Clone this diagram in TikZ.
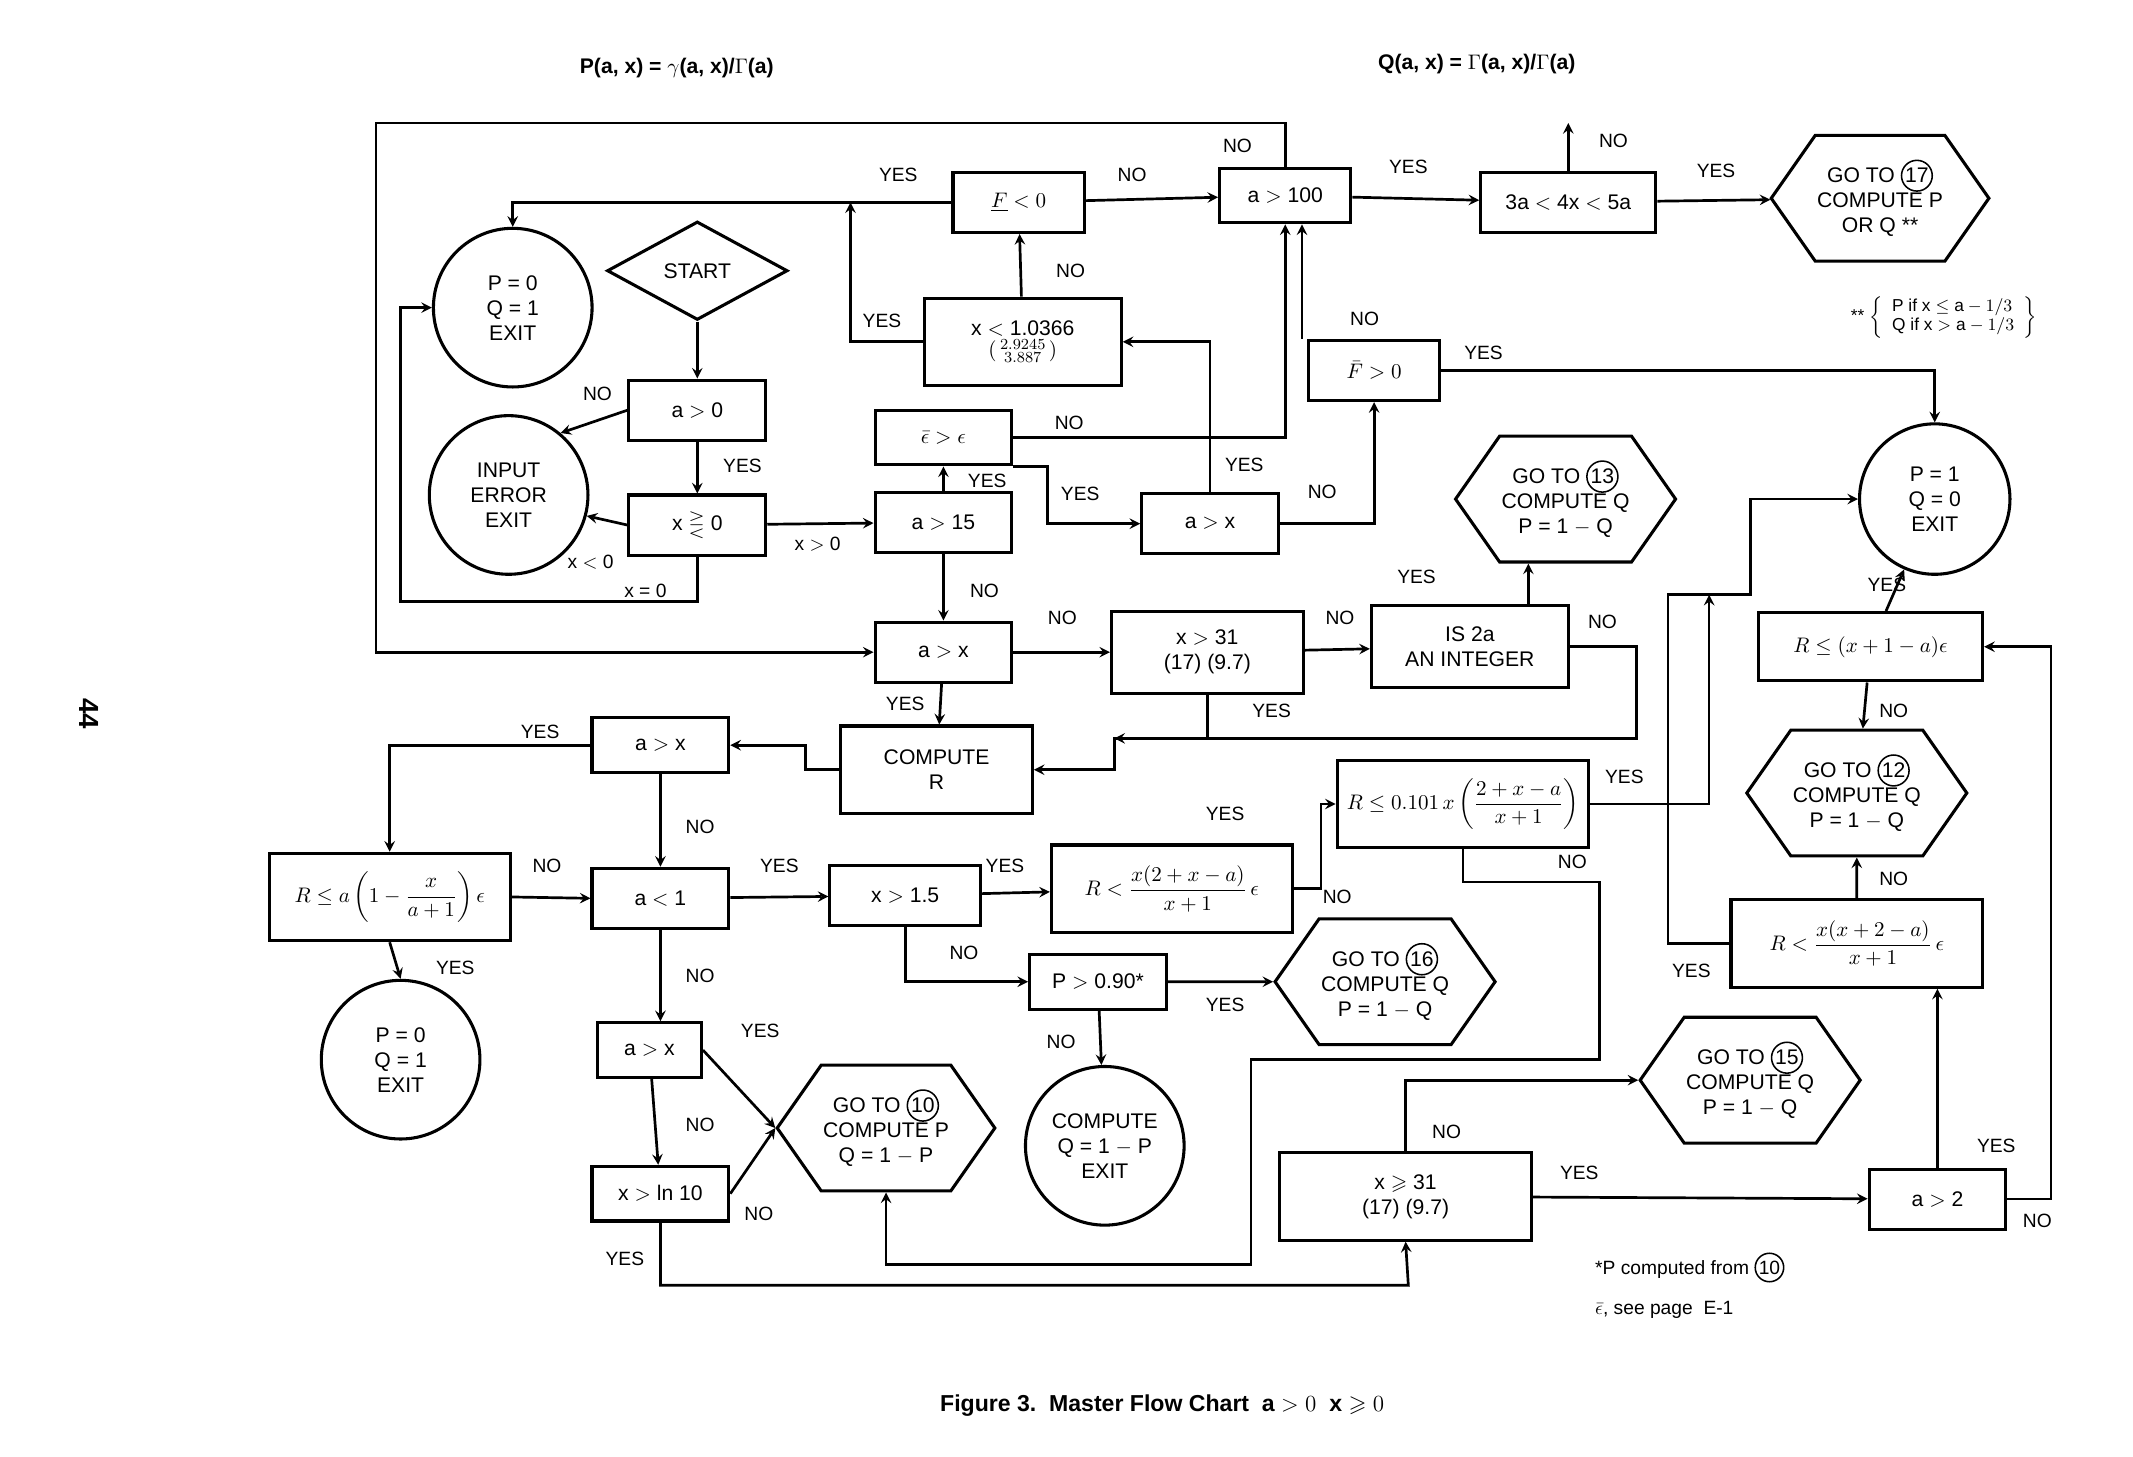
\documentclass[tikz,border=0pt]{standalone}
\usepackage{fontspec}
\setmainfont{Liberation Sans}
\usepackage{amsmath,amssymb}
\usetikzlibrary{shapes.geometric,shapes.symbols}
\newcommand{\circnum}[1]{\tikz[baseline=(c.base)]\node[shape=circle,draw,thick,inner sep=0.6pt,minimum width=0pt,minimum height=0pt,minimum size=0pt](c){#1};}
\tikzset{
  box/.style={draw, line width=1.6pt, align=center, inner sep=2pt},
  hexa/.style={draw, line width=1.6pt, align=center, signal, signal to=east and west, signal pointer angle=110, minimum width=3.75cm, minimum height=2.3cm, inner sep=1pt},
  term/.style={draw, circle, line width=1.6pt, align=center, minimum size=2.9cm, inner sep=0pt},
  lbl/.style={font=\fontsize{10}{12}\selectfont, inner sep=1pt},
  flow/.style={line width=1.4pt, ->, >=stealth}
}
\begin{document}
\begin{tikzpicture}[x=0.025cm, y=-0.025cm, font=\fontsize{11}{13}\selectfont]
\useasboundingbox (0,0) rectangle (1560,1065);
%% headings
\node (hp) at (495,50) {\textbf{P(a, x) = \(\gamma\)(a, x)/\(\Gamma\)(a)}};
\node (hq) at (1080,47) {\textbf{Q(a, x) = \(\Gamma\)(a, x)/\(\Gamma\)(a)}};
\node[rotate=-90, font=\Large\bfseries] (pg) at (65,522) {44};
\node (cap) at (850,1028) {\large\textbf{Figure 3.\ \ Master Flow Chart\ \ a \(>0\)\ \ x \(\geqslant 0\)}};
\node[lbl, anchor=west] (fn1) at (1165,927) {*P computed from \circnum{10}};
\node[lbl, anchor=west] (fn2) at (1165,958) {\(\bar\epsilon\), see page\ \ E-1};
\node[lbl, anchor=west, font=\fontsize{9}{10}\selectfont] (fn3) at (1352,232) {** \(\left\{\begin{array}{l}\text{P if x} \le \text{a} - 1/3\\ \text{Q if x} > \text{a} - 1/3\end{array}\right\}\)};

%% boxes
\node[box, minimum width=2.4cm, minimum height=1.1cm] (fneg) at (745,148) {\(\underline{F}<0\)};
\node[box, minimum width=2.4cm, minimum height=1cm] (a100) at (940,143) {a \(>\) 100};
\node[box, minimum width=3.2cm, minimum height=1.1cm] (r3a) at (1147,148) {3a \(<\) 4x \(<\) 5a};
\node[hexa] (go17) at (1375,145) {GO TO \circnum{17}\\COMPUTE P\\OR Q **};
\node[term] (exitA) at (375,225) {P = 0\\Q = 1\\EXIT};
\node[draw, diamond, aspect=2, line width=1.6pt, minimum width=3.3cm, minimum height=1.8cm, inner sep=0pt] (start) at (510,198) {START};
\node[box, minimum width=3.6cm, minimum height=1.6cm] (xsmall) at (748,250) {x \(<\) 1.0366\\[-2pt]\(\left(\begin{smallmatrix}2.9245\\3.887\end{smallmatrix}\right)\)};
\node[box, minimum width=2.5cm, minimum height=1.1cm] (apos) at (510,300) {a \(>\) 0};
\node[box, minimum width=2.5cm, minimum height=1cm] (epsc) at (690,320) {\(\bar\epsilon>\epsilon\)};
\node[box, minimum width=2.4cm, minimum height=1.1cm] (fbar) at (1005,271) {\(\bar F>0\)};
\node[term] (inerr) at (372,362) {INPUT\\ERROR\\EXIT};
\node[box, minimum width=2.5cm, minimum height=1.1cm] (xcmp) at (510,384) {x \(\gtreqless\) 0};
\node[box, minimum width=2.5cm, minimum height=1.1cm] (a15) at (690,382) {a \(>\) 15};
\node[box, minimum width=2.5cm, minimum height=1.1cm] (axu) at (885,383) {a \(>\) x};
\node[hexa] (go13) at (1145,365) {GO TO \circnum{13}\\COMPUTE Q\\P = 1 \(-\) Q};
\node[term, minimum size=2.75cm] (exitP1) at (1415,365) {P = 1\\Q = 0\\EXIT};
\node[box, minimum width=2.5cm, minimum height=1.1cm] (axm) at (690,477) {a \(>\) x};
\node[box, minimum width=3.5cm, minimum height=1.5cm] (x31u) at (883,477) {x \(>\) 31\\(17) (9.7)};
\node[box, minimum width=3.6cm, minimum height=1.5cm] (int2a) at (1075,473) {IS 2a\\AN INTEGER};
\node[box, minimum width=4.1cm, minimum height=1.25cm] (rq) at (1368,473) {\(R\le(x+1-a)\epsilon\)};
\node[box, minimum width=2.5cm, minimum height=1cm] (axl) at (483,545) {a \(>\) x};
\node[box, minimum width=3.5cm, minimum height=1.6cm] (compR) at (685,563) {COMPUTE\\R};
\node[box, minimum width=4.6cm, minimum height=1.6cm] (r101) at (1070,588) {\(R\le 0.101\,x\left(\dfrac{2+x-a}{x+1}\right)\)};
\node[hexa] (go12) at (1358,580) {GO TO \circnum{12}\\COMPUTE Q\\P = 1 \(-\) Q};
\node[box, minimum width=4.4cm, minimum height=1.6cm] (ra) at (285,656) {\(R\le a\left(1-\dfrac{x}{a+1}\right)\epsilon\)};
\node[box, minimum width=2.5cm, minimum height=1.1cm] (alt1) at (483,657) {a \(<\) 1};
\node[box, minimum width=2.75cm, minimum height=1.1cm] (x15) at (662,655) {x \(>\) 1.5};
\node[box, minimum width=4.4cm, minimum height=1.6cm] (r2xa) at (857,650) {\(R<\dfrac{x(2+x-a)}{x+1}\,\epsilon\)};
\node[box, minimum width=4.6cm, minimum height=1.6cm] (rx2a) at (1358,690) {\(R<\dfrac{x(x+2-a)}{x+1}\,\epsilon\)};
\node[box, minimum width=2.5cm, minimum height=1cm] (p90) at (803,718) {P \(>\) 0.90*};
\node[hexa] (go16) at (1013,718) {GO TO \circnum{16}\\COMPUTE Q\\P = 1 \(-\) Q};
\node[term] (exitB) at (293,775) {P = 0\\Q = 1\\EXIT};
\node[box, minimum width=1.9cm, minimum height=1cm] (axll) at (475,768) {a \(>\) x};
\node[hexa] (go10) at (648,825) {GO TO \circnum{10}\\COMPUTE P\\Q = 1 \(-\) P};
\node[term] (exitQ) at (808,838) {COMPUTE\\Q = 1 \(-\) P\\EXIT};
\node[hexa] (go15) at (1280,790) {GO TO \circnum{15}\\COMPUTE Q\\P = 1 \(-\) Q};
\node[box, minimum width=2.5cm, minimum height=1cm] (xln) at (483,873) {x \(>\) \(\ln\) 10};
\node[box, minimum width=4.6cm, minimum height=1.6cm] (x31l) at (1028,875) {x \(\geqslant\) 31\\(17) (9.7)};
\node[box, minimum width=2.5cm, minimum height=1.1cm] (a2) at (1417,877) {a \(>\) 2};

%% junction points
\coordinate (zl) at (293,440);
\coordinate (tl) at (275,90);
\coordinate (fl) at (622,148);
\coordinate (jr) at (815,540);
\coordinate (jx) at (1197,540);
\coordinate (tk1) at (1220,435);
\coordinate (tk2) at (1280,435);
\coordinate (tk3) at (1250,435);
\coordinate (rc1) at (1170,645);
\coordinate (rc2) at (1170,775);
\coordinate (rc4) at (915,925);
\coordinate (bl) at (1030,940);
\coordinate (rr) at (1500,877);

%% connectors
\draw[flow] (start) -- (apos);
\draw[flow] (apos.west) -- (inerr.50);
\draw[flow] (apos) -- (xcmp);
\draw[flow] (xcmp.west) -- (inerr.-15);
\draw[flow] (xcmp) -- (a15);
\draw[flow] (xcmp.south) |- (zl) |- (exitA.west);
\draw[flow] (a15) -- (epsc);
\draw[flow] (a15) -- (axm);
\draw[flow] (epsc.east) -| (a100.south);
\draw[flow] (epsc.south east) -- ++(25,0) |- (axu.west);
\draw[flow] (axu.north) |- (xsmall.east);
\draw[flow] (axu.east) -| (fbar.south);
\draw[flow] (xsmall) -- (fneg);
\draw[flow] (xsmall.west) -| (fl);
\draw[flow] (fneg.west) -| (exitA.north);
\draw[flow] (fneg) -- (a100);
\draw[flow] (a100) -- (r3a);
\draw[flow] (a100.north) |- (tl) |- (axm.west);
\draw[flow] (r3a.north) -- (r3a.north |- tl);
\draw[flow] (r3a) -- (go17);
\draw[flow] (fbar.north -| a100.-60) -- (a100.-60);
\draw[flow] (fbar.east) -| (exitP1.north);
\draw[flow] (axm) -- (x31u);
\draw[flow] (axm) -- (compR);
\draw[flow] (x31u) -- (int2a);
\draw[flow] (x31u.south) |- (jr) |- (compR.east);
\draw[flow] (int2a.east) -| (jx) -- (jr);
\draw[flow] (go13.-120 |- int2a.north) -- (go13.-120);
\draw[flow] (compR.west) -- ++(-25,0) |- (axl.east);
\draw[flow] (axl.west) -| (ra.north);
\draw[flow] (axl) -- (alt1);
\draw[flow] (ra.east) -- (alt1.west);
\draw[flow] (ra.south) -- (exitB.north);
\draw[flow] (alt1) -- (x15);
\draw[flow] (alt1.south) -- (alt1.south |- axll.north);
\draw[flow] (x15) -- (r2xa);
\draw[flow] (x15.south) |- (p90.west);
\draw[flow] (r2xa.east) -- ++(20,0) |- (r101.west);
\draw[flow] (p90) -- (go16);
\draw[flow] (p90) -- (exitQ);
\draw[flow] (rx2a.west) -| (tk1) -- (tk2) |- (exitP1.west);
\draw[flow] (r101.east) -| (tk3);
\draw[flow] (r101.south) |- (rc1) -- (rc2) -| (rc4) -| (go10.south);
\draw[flow] (axll.east) -- (go10.west);
\draw[flow] (axll) -- (xln);
\draw[flow] (xln.east) -- (go10.west);
\draw[flow] (xln.south) |- (bl) -- (x31l.south);
\draw[flow] (x31l.north) |- (go15.west);
\draw[flow] (x31l) -- (a2);
\draw[flow] (a2.north) -- (a2.north |- rx2a.south);
\draw[flow] (a2.east) -- (rr) |- (rq.east);
\draw[flow] (rx2a) -- (go12);
\draw[flow] (rq) -- (go12);
\draw[flow] (rq) -- (exitP1);

%% branch labels
\node[lbl] (l1) at (437,288) {NO};
\node[lbl] (l2) at (543,341) {YES};
\node[lbl] (l3) at (432,411) {x \(<\) 0};
\node[lbl] (l4) at (598,398) {x \(>\) 0};
\node[lbl] (l5) at (472,432) {x = 0};
\node[lbl] (l6) at (722,352) {YES};
\node[lbl] (l7) at (720,432) {NO};
\node[lbl] (l8) at (782,309) {NO};
\node[lbl] (l9) at (790,361) {YES};
\node[lbl] (l10) at (910,340) {YES};
\node[lbl] (l11) at (967,360) {NO};
\node[lbl] (l12) at (783,198) {NO};
\node[lbl] (l13) at (645,235) {YES};
\node[lbl] (l14) at (657,128) {YES};
\node[lbl] (l15) at (828,128) {NO};
\node[lbl] (l16) at (1030,122) {YES};
\node[lbl] (l17) at (905,107) {NO};
\node[lbl] (l18) at (1180,103) {NO};
\node[lbl] (l19) at (1255,125) {YES};
\node[lbl] (l20) at (998,233) {NO};
\node[lbl] (l21) at (1085,258) {YES};
\node[lbl] (l22) at (777,452) {NO};
\node[lbl] (l23) at (662,515) {YES};
\node[lbl] (l24) at (980,452) {NO};
\node[lbl] (l25) at (930,520) {YES};
\node[lbl] (l26) at (1036,422) {YES};
\node[lbl] (l27) at (1172,455) {NO};
\node[lbl] (l28) at (395,535) {YES};
\node[lbl] (l29) at (512,605) {NO};
\node[lbl] (l30) at (400,633) {NO};
\node[lbl] (l31) at (333,708) {YES};
\node[lbl] (l32) at (570,633) {YES};
\node[lbl] (l33) at (512,714) {NO};
\node[lbl] (l34) at (735,633) {YES};
\node[lbl] (l35) at (705,697) {NO};
\node[lbl] (l36) at (896,595) {YES};
\node[lbl] (l37) at (978,656) {NO};
\node[lbl] (l38) at (1188,568) {YES};
\node[lbl] (l39) at (1150,630) {NO};
\node[lbl] (l40) at (896,735) {YES};
\node[lbl] (l41) at (776,762) {NO};
\node[lbl] (l42) at (556,754) {YES};
\node[lbl] (l43) at (512,823) {NO};
\node[lbl] (l44) at (555,888) {NO};
\node[lbl] (l45) at (457,921) {YES};
\node[lbl] (l46) at (1058,828) {NO};
\node[lbl] (l47) at (1155,858) {YES};
\node[lbl] (l48) at (1460,838) {YES};
\node[lbl] (l49) at (1490,893) {NO};
\node[lbl] (l50) at (1385,643) {NO};
\node[lbl] (l51) at (1385,520) {NO};
\node[lbl] (l52) at (1380,428) {YES};
\node[lbl] (l53) at (1237,710) {YES};
\end{tikzpicture}
\end{document}
